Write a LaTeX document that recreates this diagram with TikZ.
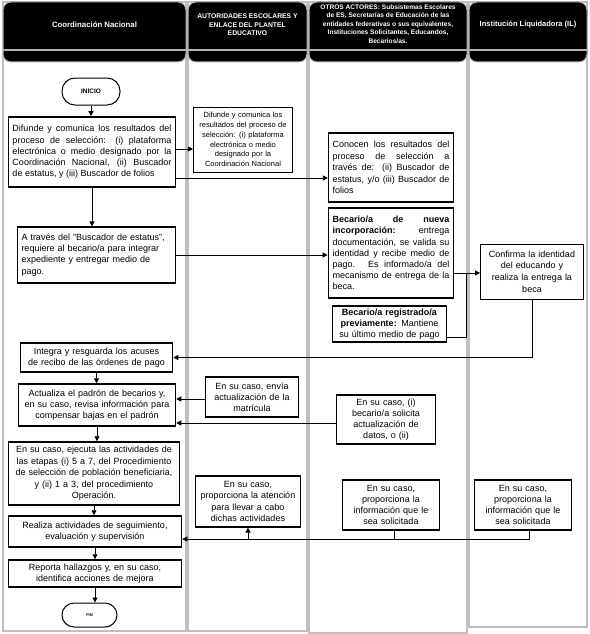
\documentclass[tikz,border=0pt]{standalone}
\usepackage{fontspec}
\setmainfont{Liberation Sans}
\usetikzlibrary{arrows.meta}

\begin{document}
\begin{tikzpicture}[x=1pt,y=-1pt,
	box/.style={rectangle,draw,inner xsep=4pt,inner ysep=2pt,align=center,font=\fontsize{9}{11.2}\selectfont},
	jbox/.style={box,align=justify},
	arr/.style={-{Triangle[length=5pt,width=5pt]},line width=0.8pt},
	lane/.style={draw=black!25,line width=1.5pt},
	head/.style={fill=black,draw=black!30,line width=1pt,rounded corners=8pt},
	htext/.style={text=white,align=center,font=\fontsize{#1}{8.5}\selectfont\bfseries}]
			\useasboundingbox (0,0) rectangle (589,634);
			
			\draw[lane] (3,2) rectangle (186,631);
			\draw[lane] (188,2) rectangle (307,631);
			\draw[lane] (309,2) rectangle (467,633);
			\draw[lane] (469,2) rectangle (587,627);
			
			\draw[head] (3,2) rectangle (186,62);
			\draw[head] (188,2) rectangle (307,62);
			\draw[head] (309,2) rectangle (467,62);
			\draw[head] (469,2) rectangle (587,62);
			\foreach \a/\b in {3/186,188/307,309/467,469/587}
				\draw[black!30,line width=1.5pt] (\a,50) -- (\b,50);
			
			\node[htext=7.8] (h1) at (94.5,25) {Coordinación Nacional};
			\node[htext=6.8] (h2) at (247.5,25) {AUTORIDADES ESCOLARES Y\\ENLACE DEL PLANTEL\\EDUCATIVO};
			\node[htext=6.6] (h3) at (388,24) {OTROS ACTORES: Subsistemas Escolares\\de ES, Secretarías de Educación de las\\entidades federativas o sus equivalentes,\\Instituciones Solicitantes, Educandos,\\Becarios/as.};
			\node[htext=7.5] (h4) at (528,25) {Institución Liquidadora (IL)};
			
			\node[box,rounded corners=13pt,line width=1pt,minimum width=58pt,minimum height=27pt,font=\fontsize{6.5}{8}\selectfont\bfseries] (ini) at (91,91.5) {INICIO};
			\node[jbox,line width=1.6pt,text width=159pt,minimum height=70pt] (dif) at (92,152) {Difunde y comunica los resultados del\linebreak proceso de selección: (i) plataforma\linebreak electrónica o medio designado por la\linebreak Coordinación Nacional, (ii) Buscador\linebreak de estatus, y (iii) Buscador de folios};
			\node[box,line width=0.8pt,text width=91pt,minimum height=65pt,font=\fontsize{7.5}{9.8}\selectfont] (dif2) at (243,139.5) {Difunde y comunica los\\resultados del proceso de\\selección: (i) plataforma\\electrónica o medio\\designado por la\\Coordinación Nacional};
			\node[jbox,line width=1.2pt,text width=117pt,minimum height=69pt,font=\fontsize{9}{11.5}\selectfont] (con) at (391,167.5) {Conocen los resultados del\linebreak proceso de selección a\linebreak través de: (ii) Buscador de\linebreak estatus, y/o (iii) Buscador de\linebreak folios};
			\node[box,align=left,line width=1.2pt,text width=150pt,minimum height=56pt] (req) at (96.5,255) {A través del "Buscador de estatus",\\requiere al becario/a para integrar\\expediente y entregar medio de\\pago.};
			\node[jbox,line width=1.8pt,text width=117pt,minimum height=90pt] (nue) at (391,253) {\textbf{Becario/a de nueva}\linebreak \textbf{incorporación:} entrega\linebreak documentación, se valida su\linebreak identidad y recibe medio de\linebreak pago. Es informado/a del\linebreak mecanismo de entrega de la\linebreak beca.};
			\node[box,line width=0.8pt,text width=95pt,minimum height=55pt,font=\fontsize{9}{11.7}\selectfont] (conf) at (532,271.5) {Confirma la identidad\\del educando y\\realiza la entrega la\\beca};
			\node[box,line width=1.5pt,text width=106pt,minimum height=36pt] (reg) at (389.5,324) {\textbf{Becario/a registrado/a}\\\textbf{previamente:} Mantiene\\su último medio de pago};
			\node[box,line width=1.5pt,text width=144pt,minimum height=29pt] (integ) at (96.5,357.5) {Integra y resguarda los acuses\\de recibo de las órdenes de pago};
			\node[box,line width=1.5pt,text width=149pt,minimum height=42pt] (actu) at (97,405) {Actualiza el padrón de becarios y,\\en su caso, revisa información para\\compensar bajas en el padrón};
			\node[box,line width=1.2pt,text width=85pt,minimum height=40pt] (matr) at (252,397) {En su caso, envía\\actualización de la\\matrícula};
			\node[box,line width=1.2pt,text width=91pt,minimum height=49pt] (beci) at (386,419.5) {En su caso, (i)\\becario/a solicita\\actualización de\\datos, o (ii)};
			\node[box,line width=1.5pt,text width=163pt,minimum height=63pt,font=\fontsize{9}{11.5}\selectfont] (ejec) at (94,473.5) {En su caso, ejecuta las actividades de\\las etapas (i) 5 a 7, del Procedimiento\\de selección de población beneficiaria,\\y (ii) 1 a 3, del procedimiento\\Operación.};
			\node[box,line width=1.2pt,text width=97pt,minimum height=51pt] (aten) at (248,501.5) {En su caso,\\proporciona la atención\\para llevar a cabo\\dichas actividades};
			\node[box,line width=1.2pt,text width=89pt,minimum height=50pt] (info3) at (391,505) {En su caso,\\proporciona la\\información que le\\sea solicitada};
			\node[box,line width=1.2pt,text width=89pt,minimum height=50pt] (info4) at (523,505) {En su caso,\\proporciona la\\información que le\\sea solicitada};
			\node[box,line width=1.5pt,text width=165pt,minimum height=31pt] (real) at (95,531.5) {Realiza actividades de seguimiento,\\evaluación y supervisión};
			\node[box,line width=1.5pt,text width=165pt,minimum height=27pt] (repo) at (95,573.5) {Reporta hallazgos y, en su caso,\\identifica acciones de mejora};
			\node[box,rounded corners=12pt,line width=1pt,minimum width=55pt,minimum height=24pt,font=\fontsize{4}{5}\selectfont\bfseries] (fin) at (89.5,615) {FIN};
			
			\coordinate (jn) at (466,273);
			\coordinate (ln) at (300,539);
			
			\path[draw,arr] (ini) -- (ini.south |- dif.north);
			\path[draw,arr] ([yshift=3pt]dif.east) -- ([yshift=3pt]dif.east -| dif2.west);
			\path[draw,arr] ([yshift=-26pt]dif.east) -- ([yshift=-26pt]dif.east -| con.west);
			\path[draw,arr] (dif.south) -- (dif.south |- req.north);
			\path[draw,arr] (req.east) -- (req.east -| nue.west);
			\path[draw,arr] ([yshift=-20pt]nue.east) -- ([yshift=-20pt]nue.east -| conf.west);
			\path[draw,line width=0.8pt] ([yshift=-13pt]reg.east) -| (jn);
			\path[draw,arr] (conf.south) |- (integ.east);
			\path[draw,arr] (integ.south) -- (integ.south |- actu.north);
			\path[draw,arr] ([yshift=-2pt]matr.west) -- ([yshift=-2pt]matr.west -| actu.east);
			\path[draw,arr] ([yshift=-3.5pt]beci.west) -- ([yshift=-3.5pt]beci.west -| actu.east);
			\path[draw,arr] (actu.south) -- (actu.south |- ejec.north);
			\path[draw,arr] (ejec.south) -- (ejec.south |- real.north);
			\path[draw,arr] (real.south) -- (real.south |- repo.north);
			\path[draw,arr] (repo.south) -- (repo.south |- fin.north);
			\path[draw,arr] ([xshift=6pt]info4.south) |- ([yshift=-7.5pt]real.east);
			\path[draw,line width=0.8pt] ([xshift=3pt]info3.south) -- ([xshift=3pt]info3.south |- ln);
			\path[draw,arr] (aten.south |- ln) -- (aten.south);
		\end{tikzpicture}
\end{document}
